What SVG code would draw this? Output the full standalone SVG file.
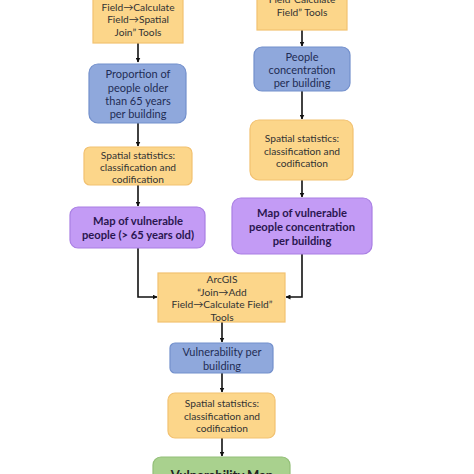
<svg xmlns="http://www.w3.org/2000/svg" width="474" height="474" viewBox="0 0 474 474">
<defs>
<marker id="ah" viewBox="0 0 10 10" refX="9" refY="5" markerWidth="5" markerHeight="5" orient="auto" markerUnits="userSpaceOnUse">
<path d="M0,0 L10,5 L0,10 z" fill="#111"/>
</marker>
<style>
.org{fill:#FCD68A;stroke:#F2C170;stroke-width:1.2}
.blu{fill:#8FA8DC;stroke:#7390CC;stroke-width:1.2}
.pur{fill:#C39BF5;stroke:#A97FE3;stroke-width:1.2}
.grn{fill:#A9D18E;stroke:#93BF78;stroke-width:1.2}
text{font-family:Lato,"Liberation Sans",sans-serif;text-anchor:middle}
.t{font-size:10.2px;fill:#333}
.tb{font-size:11px;fill:#1F2D55}
.tp{font-size:11.2px;font-weight:bold;fill:#2A1650}
.tg{font-size:13px;font-weight:bold;fill:#222}
.c{fill:none;stroke:#111;stroke-width:1.6}
</style>
</defs>
<rect width="474" height="474" fill="#fff"/>
<g id="connectors">
<path class="c" d="M138,43 V62" marker-end="url(#ah)"/>
<path class="c" d="M138,123 V146" marker-end="url(#ah)"/>
<path class="c" d="M138,185 V206" marker-end="url(#ah)"/>
<path class="c" d="M138,248 V297 H157" marker-end="url(#ah)"/>
<path class="c" d="M302,30 V46" marker-end="url(#ah)"/>
<path class="c" d="M302,91 V119" marker-end="url(#ah)"/>
<path class="c" d="M302,180 V197" marker-end="url(#ah)"/>
<path class="c" d="M302,254 V297 H286" marker-end="url(#ah)"/>
<path class="c" d="M222,322 V342" marker-end="url(#ah)"/>
<path class="c" d="M222,373 V392" marker-end="url(#ah)"/>
<path class="c" d="M222,438 V456" marker-end="url(#ah)"/>
</g>
<g id="n1">
<rect class="org" x="93" y="-10" width="90" height="53"/>
<text class="t" x="138" y="11">Field→Calculate</text>
<text class="t" x="138" y="23">Field→Spatial</text>
<text class="t" x="138" y="36">Join” Tools</text>
</g>
<g id="n2">
<rect class="blu" x="89" y="64" width="97" height="59" rx="9"/>
<text class="tb" x="138" y="78">Proportion of</text>
<text class="tb" x="138" y="92">people older</text>
<text class="tb" x="138" y="105">than 65 years</text>
<text class="tb" x="138" y="118">per building</text>
</g>
<g id="n3">
<rect class="org" x="84" y="147" width="108" height="38" rx="6"/>
<text class="t" x="138" y="159">Spatial statistics:</text>
<text class="t" x="138" y="171">classification and</text>
<text class="t" x="138" y="183">codification</text>
</g>
<g id="n4">
<rect class="pur" x="70" y="207" width="135" height="41" rx="8"/>
<text class="tp" x="138" y="225">Map of vulnerable</text>
<text class="tp" x="138" y="239">people (&gt; 65 years old)</text>
</g>
<g id="n5">
<rect class="org" x="257" y="-10" width="90" height="40"/>
<text class="t" x="302" y="3">Field”Calculate</text>
<text class="t" x="302" y="16">Field” Tools</text>
</g>
<g id="n6">
<rect class="blu" x="254" y="47" width="96" height="44" rx="8"/>
<text class="tb" x="302" y="61">People</text>
<text class="tb" x="302" y="74">concentration</text>
<text class="tb" x="302" y="87">per building</text>
</g>
<g id="n7">
<rect class="org" x="250" y="120" width="103" height="60" rx="9"/>
<text class="t" x="302" y="142">Spatial statistics:</text>
<text class="t" x="302" y="155">classification and</text>
<text class="t" x="302" y="167">codification</text>
</g>
<g id="n8">
<rect class="pur" x="232" y="198" width="140" height="56" rx="9"/>
<text class="tp" x="302" y="217">Map of vulnerable</text>
<text class="tp" x="302" y="231">people concentration</text>
<text class="tp" x="302" y="245">per building</text>
</g>
<g id="n9">
<rect class="org" x="158" y="273" width="127" height="49"/>
<text class="t" x="222" y="283">ArcGIS</text>
<text class="t" x="222" y="296">“Join→Add</text>
<text class="t" x="222" y="308">Field→Calculate Field”</text>
<text class="t" x="222" y="321">Tools</text>
</g>
<g id="n10">
<rect class="blu" x="170" y="343" width="103" height="30" rx="5"/>
<text class="tb" x="222" y="356">Vulnerability per</text>
<text class="tb" x="222" y="370">building</text>
</g>
<g id="n11">
<rect class="org" x="168" y="393" width="107" height="45" rx="7"/>
<text class="t" x="222" y="407">Spatial statistics:</text>
<text class="t" x="222" y="420">classification and</text>
<text class="t" x="222" y="432">codification</text>
</g>
<g id="n12">
<rect class="grn" x="153" y="457" width="137" height="40" rx="8"/>
<text class="tg" x="222" y="480">Vulnerability Map</text>
</g>
</svg>
